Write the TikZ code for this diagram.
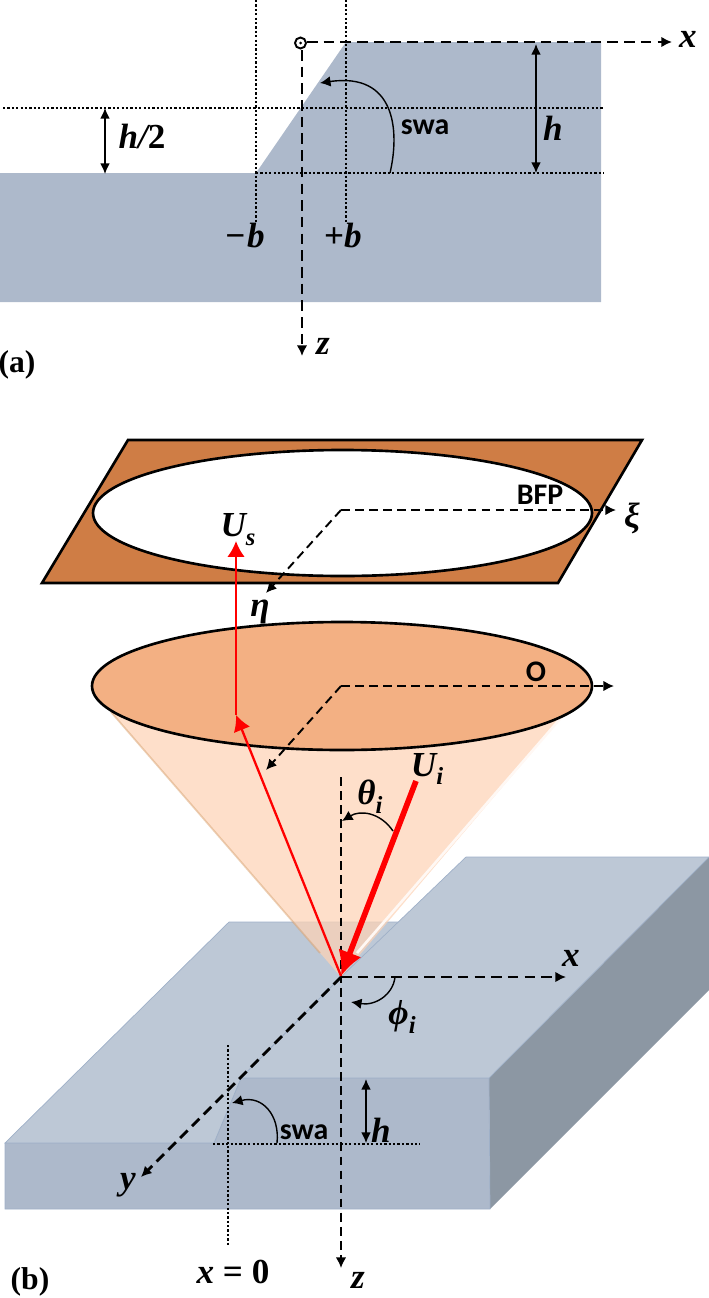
\documentclass[tikz,border=0pt]{standalone}
\usepackage{fontspec}
\newfontfamily\labelfont{Carlito}
\newfontfamily\tagfont{Liberation Serif}
\usetikzlibrary{arrows.meta}
\definecolor{slabFront}{HTML}{ADB9CB}
\definecolor{slabTop}{HTML}{BDC8D6}
\definecolor{slabSide}{HTML}{8C97A3}
\definecolor{slabEdge}{HTML}{9FB0C8}
\definecolor{planeFill}{HTML}{CF7D45}
\definecolor{lensFill}{HTML}{F3B083}
\definecolor{coneFill}{HTML}{FDD3B5}
\newcommand{\lowidx}[1]{\raisebox{-0.25em}{\fontsize{14}{16}\selectfont #1}}
\tikzset{
  axis/.style = {color=black, line width=1.6pt, dash pattern=on 6pt off 3.5pt, -{Latex[length=6pt,width=6pt]}},
  thinAxis/.style = {color=black, line width=1.1pt, dash pattern=on 5pt off 3pt, -{Latex[length=6pt,width=6pt]}},
  guide/.style = {color=black, line width=1.5pt, dash pattern=on 1.3pt off 1.2pt},
  span/.style = {color=black, line width=0.8pt, {Latex[length=6pt,width=5.5pt]}-{Latex[length=6pt,width=5.5pt]}},
  sweep/.style = {color=black, line width=0.8pt, -{Latex[length=6pt,width=6pt]}},
  ray/.style = {color=red, line width=1.3pt, -{Latex[length=9pt,width=10pt]}},
  mathLabel/.style = {inner sep=0pt, font=\fontsize{20}{23}\selectfont\tagfont\bfseries\itshape},
  wordLabel/.style = {inner sep=0pt, font=\fontsize{17}{20}\selectfont\labelfont\bfseries},
  tagLabel/.style = {inner sep=0pt, font=\fontsize{18}{21}\selectfont\tagfont\bfseries}
}
\begin{document}
\begin{tikzpicture}[x=0.02cm,y=-0.02cm]

    \useasboundingbox (0,0) rectangle (709,1298);

    % Coordinates of (a)
    \coordinate (O) at (302,42);
    \coordinate (stepLow) at (256,173);
    \coordinate (stepHigh) at (346,42);

    % Profile of (a)
    \fill[slabFront] (0,173) -- (stepLow) -- (stepHigh) -- (601,42) -- (601,302) -- (0,302) -- cycle;

    % Guides of (a)
    \draw[guide] (3,108) -- (604,108);
    \draw[guide] (stepLow) -- (604,173);
    \draw[guide] (256,0) -- (256,222);
    \draw[guide] (346,0) -- (346,222);

    % Axes of (a)
    \draw[axis] (307,42) -- (672,42);
    \draw[axis] (O) ++(0,8) -- (302,356);
    \draw[line width=1.1pt] (O) ++(-1.5,1) circle[radius=5.5];
    \fill (O) ++(-1.5,1) circle[radius=1.5];

    % Dimensions of (a)
    \draw[span] (105,108) -- (105,174);
    \draw[span] (536,44) -- (536,173);
    \draw[sweep] (390,173) .. controls (400,130) and (395,72) .. (320,83);

    % Labels of (a)
    \node[mathLabel] (xa) at (688,39) {x};
    \node[mathLabel] (za) at (323,346) {z};
    \node[tagLabel] (taga) at (17,365) {(a)};
    \node[mathLabel] (minusb) at (245,236) {{\upshape\textminus}\kern1pt b};
    \node[mathLabel] (plusb) at (343,236) {{\upshape +}b};
    \node[mathLabel] (halfh) at (142,136) {h/{\upshape 2}};
    \node[mathLabel] (ha) at (553,128) {h};
    \node[wordLabel] (swaa) at (425,127) {swa};

    % Body of (b)
    \fill[slabSide] (489,1078) -- (709,857) -- (709,990) -- (490,1209) -- cycle;
    \draw[slabEdge, fill=slabFront] (5,1143) -- (214,1143) -- (241,1078) -- (489,1078) -- (490,1209) -- (5,1209) -- cycle;
    \draw[slabEdge, fill=slabTop] (5,1143) -- (229,922) -- (402,922) -- (341,977) -- (241,1078) -- (214,1143) -- cycle;
    \draw[slabEdge, fill=slabTop] (466,857) -- (709,857) -- (489,1078) -- (241,1078) -- (341,977) -- cycle;

    % Light cone
    \fill[coneFill, fill opacity=0.72] (111,712) -- (341,977) -- (566,712) -- cycle;
    \draw[white!85!coneFill, line width=1.5pt] (566,712) -- (357,953);
    \draw[brown!60!coneFill, line width=1pt, opacity=0.5] (111,712) -- (320,953);

    % Back focal plane
    \draw[black, line width=1.5pt, fill=planeFill] (128,440) -- (642,440) -- (558,583) -- (42,583) -- cycle;
    \draw[black, line width=1.5pt, fill=white] (342.5,513) ellipse [x radius=249.5, y radius=63];
    \draw[thinAxis] (341,510) -- (616,510);
    \draw[thinAxis] (341,510) -- (266,593);

    % Objective lens
    \draw[black, line width=1.5pt, fill=lensFill] (342,686) ellipse [x radius=250, y radius=64];
    \draw[thinAxis] (341,686) -- (614,686);
    \draw[thinAxis] (341,686) -- (266,770);

    % Axes of (b)
    \draw[thinAxis] (341,777) -- (341,1268);
    \draw[axis] (341,977) -- (566,977);
    \draw[axis] (341,977) -- (141,1177);
    \draw[guide] (228,1045) -- (228,1247);
    \draw[guide] (213,1144) -- (420,1144);

    % Rays
    \coordinate (hit) at (341,976);
    \draw[ray] (hit) -- (236,715);
    \draw[ray, line width=1.5pt] (236,715) -- (236,541);
    \draw[color=red, line width=3.2pt, -{Latex[length=14pt,width=14pt]}] (416,781) -- (hit);

    % Angles of (b)
    \draw[sweep] (393,831) .. controls (380,812) and (360,810) .. (342,821);
    \draw[sweep] (395,977) .. controls (393,995) and (375,1006) .. (351,1002);
    \draw[sweep] (277,1143) .. controls (280,1115) and (262,1095) .. (232,1103);
    \draw[span] (366,1079) -- (366,1143);

    % Labels of (b)
    \node[wordLabel] (bfp) at (540,495) {BFP};
    \node[mathLabel] (xi) at (632,518) {ξ};
    \node[mathLabel] (us) at (238,530) {U\lowidx{s}};
    \node[mathLabel] (eta) at (260,612) {η};
    \node[wordLabel] (lens) at (536,672) {O};
    \node[mathLabel] (ui) at (427,769) {U\lowidx{i}};
    \node[mathLabel] (theta) at (370,797) {θ\lowidx{i}};
    \node[mathLabel] (xb) at (571,958) {x};
    \node[mathLabel] (phi) at (402,1017) {ϕ\lowidx{i}};
    \node[wordLabel] (swab) at (304,1132) {swa};
    \node[mathLabel] (hb) at (381,1130) {h};
    \node[mathLabel] (yb) at (128,1185) {y};
    \node[mathLabel] (xzero) at (233,1272) {x {\upshape = 0}};
    \node[mathLabel] (zb) at (358,1280) {z};
    \node[tagLabel] (tagb) at (30,1282) {(b)};

\end{tikzpicture}
\end{document}
